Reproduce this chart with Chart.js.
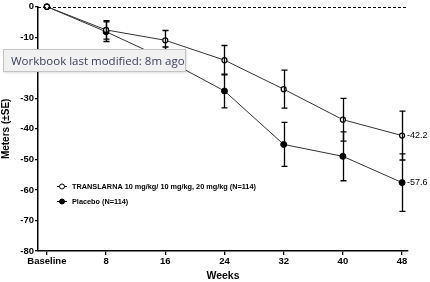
<!DOCTYPE html>
<html lang="en">
<head>
  <meta charset="UTF-8">
  <title>6MWD change from baseline</title>
  <script src="https://cdn.jsdelivr.net/npm/chart.js"></script>
  <style>
    body {
      margin: 0;
      background: #fff;
    }

    .wrap {
      position: relative;
      width: 430px;
      height: 282px;
    }

    .tip {
      position: absolute;
      left: 3px;
      top: 49px;
      width: 183px;
      height: 23px;
      background: #f1f1f1;
      border: 1px solid #c4c4c4;
      box-shadow: 1px 1px 2px rgba(0,0,0,0.12);
      font-family: 'Open Sans', sans-serif;
      font-size: 11.5px;
      line-height: 22px;
      color: #3a3f58;
      padding-left: 7px;
      box-sizing: border-box;
      white-space: nowrap;
    }
  </style>
</head>
<body>
<div class="wrap">
  <canvas id="chart" width="430" height="282"></canvas>
  <div class="tip">Workbook last modified: 8m ago</div>
</div>

<script>
  // weeks (0 = Baseline)
  const weeks = [0, 8, 16, 24, 32, 40, 48];
  const weekLabels = ['Baseline', '8', '16', '24', '32', '40', '48'];

  const translarnaLabel = 'TRANSLARNA 10 mg/kg/ 10 mg/kg, 20 mg/kg (N=114)';
  const translarnaMean = [0, -7.6, -11.0, -17.5, -27.0, -37.0, -42.2];
  const translarnaSE = [0, 3.0, 3.2, 4.8, 6.2, 7.0, 8.0];

  const placeboLabel = 'Placebo (N=114)';
  const placeboMean = [0, -8.2, -17.2, -27.6, -45.1, -49.0, -57.6];
  const placeboSE = [0, 3.2, 4.0, 5.5, 7.2, 8.0, 9.4];

  const yTicks = [0, -10, -20, -30, -40, -50, -60, -70, -80];
  const endLabels = ['-42.2', '-57.6'];

  const toPoints = (vals) => weeks.map((w, i) => ({ x: w, y: vals[i] }));
  const FONT = 'Liberation Sans, Arial, sans-serif';

  // error bars, zero line, end labels and legend
  const extras = {
    id: 'extras',
    afterDatasetsDraw(chart) {
      const ctx = chart.ctx;
      const xs = chart.scales.x, ys = chart.scales.y;
      const area = chart.chartArea;

      ctx.save();
      // dashed zero line
      ctx.strokeStyle = '#000';
      ctx.lineWidth = 1;
      ctx.setLineDash([3, 2]);
      ctx.beginPath();
      ctx.moveTo(area.left, Math.round(ys.getPixelForValue(0)) + 0.5);
      ctx.lineTo(area.right, Math.round(ys.getPixelForValue(0)) + 0.5);
      ctx.stroke();
      ctx.setLineDash([]);

      // error bars
      const bars = [[translarnaMean, translarnaSE], [placeboMean, placeboSE]];
      bars.forEach(([m, se]) => {
        weeks.forEach((w, i) => {
          if (!se[i]) return;
          const x = Math.round(xs.getPixelForValue(w)) + 0.5;
          const top = ys.getPixelForValue(m[i] + se[i]);
          const bot = ys.getPixelForValue(m[i] - se[i]);
          ctx.lineWidth = 1.3;
          ctx.beginPath();
          ctx.moveTo(x, top); ctx.lineTo(x, bot);
          ctx.moveTo(x - 3, top); ctx.lineTo(x + 3, top);
          ctx.moveTo(x - 3, bot); ctx.lineTo(x + 3, bot);
          ctx.stroke();
        });
      });

      // end labels
      ctx.fillStyle = '#000';
      ctx.font = '9px ' + FONT;
      ctx.textBaseline = 'middle';
      ctx.textAlign = 'left';
      const last = weeks.length - 1;
      ctx.fillText(endLabels[0], xs.getPixelForValue(weeks[last]) + 5, ys.getPixelForValue(translarnaMean[last]));
      ctx.fillText(endLabels[1], xs.getPixelForValue(weeks[last]) + 5, ys.getPixelForValue(placeboMean[last]));

      // legend
      const lx = 57;
      const items = [[translarnaLabel, '#fff', 186], [placeboLabel, '#000', 201]];
      ctx.font = 'bold 7.3px ' + FONT;
      items.forEach(([label, fill, ly]) => {
        ctx.lineWidth = 1;
        ctx.beginPath();
        ctx.moveTo(lx, ly + 0.5); ctx.lineTo(lx + 10, ly + 0.5);
        ctx.stroke();
        ctx.beginPath();
        ctx.arc(lx + 5, ly + 0.5, 2.5, 0, Math.PI * 2);
        ctx.fillStyle = fill;
        ctx.fill();
        ctx.stroke();
        ctx.fillStyle = '#000';
        ctx.fillText(label, lx + 15, ly + 1);
      });
      ctx.restore();
    }
  };

  new Chart(document.getElementById('chart'), {
    type: 'line',
    data: {
      datasets: [
        {
          label: translarnaLabel,
          data: toPoints(translarnaMean),
          borderColor: '#333',
          borderWidth: 1,
          pointBackgroundColor: '#fff',
          pointBorderColor: '#000',
          pointBorderWidth: 1.2,
          pointRadius: 2.5,
          clip: false
        },
        {
          label: placeboLabel,
          data: toPoints(placeboMean),
          borderColor: '#333',
          borderWidth: 1,
          pointBackgroundColor: '#000',
          pointBorderColor: '#000',
          pointRadius: 3,
          clip: false
        }
      ]
    },
    options: {
      responsive: false,
      animation: false,
      layout: { padding: { top: 5, right: 22, left: 0, bottom: 0 } },
      plugins: {
        legend: { display: false },
        tooltip: { enabled: false }
      },
      scales: {
        x: {
          type: 'linear',
          min: -1.2,
          max: 48.8,
          afterBuildTicks: (s) => { s.ticks = weeks.map(v => ({ value: v })); },
          afterFit: (s) => { s.height = 31; },
          grid: {
            drawOnChartArea: false,
            drawTicks: true,
            tickLength: 4,
            color: '#000',
            lineWidth: 1.3
          },
          border: { color: '#000', width: 1.5 },
          ticks: {
            color: '#000',
            padding: 1,
            maxRotation: 0,
            font: { family: FONT, size: 9.5, weight: 'bold' },
            callback: (v) => weekLabels[weeks.indexOf(v)]
          },
          title: {
            display: true,
            text: 'Weeks',
            color: '#000',
            padding: { top: 0, bottom: 0 },
            font: { family: FONT, size: 10.5, weight: 'bold' }
          }
        },
        y: {
          min: -80,
          max: 0,
          afterBuildTicks: (s) => { s.ticks = yTicks.map(v => ({ value: v })); },
          afterFit: (s) => { s.width = 38; },
          grid: {
            drawOnChartArea: false,
            drawTicks: true,
            tickLength: 3,
            color: '#000',
            lineWidth: 1.3
          },
          border: { color: '#000', width: 1.5 },
          ticks: {
            color: '#000',
            padding: 1,
            font: { family: FONT, size: 9.5, weight: 'bold' }
          },
          title: {
            display: true,
            text: 'Meters (±SE)',
            color: '#000',
            padding: { top: 0, bottom: 2 },
            font: { family: FONT, size: 10, weight: 'bold' }
          }
        }
      }
    },
    plugins: [extras]
  });
</script>
</body>
</html>
